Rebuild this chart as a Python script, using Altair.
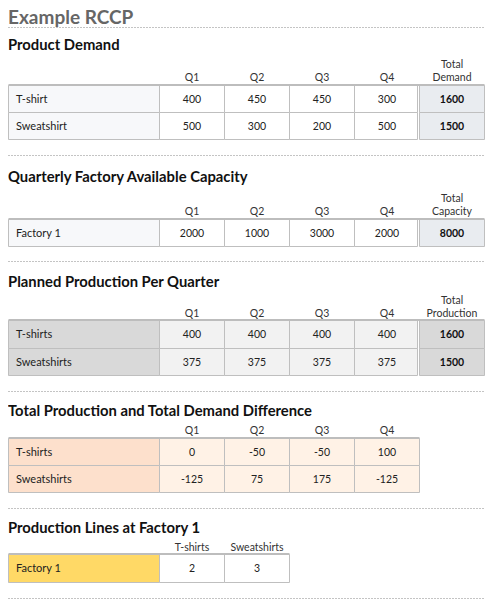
import altair as alt
import pandas as pd

# ---------------- data ----------------
title = "Example RCCP"
headings = [
    "Product Demand",
    "Quarterly Factory Available Capacity",
    "Planned Production Per Quarter",
    "Total Production and Total Demand Difference",
    "Production Lines at Factory 1",
]
quarters = ["Q1", "Q2", "Q3", "Q4"]

demand_items = ["T-shirt", "Sweatshirt"]
demand_q = [[400, 450, 450, 300], [500, 300, 200, 500]]
demand_total = [1600, 1500]
demand_total_header = ["Total", "Demand"]

capacity_items = ["Factory 1"]
capacity_q = [[2000, 1000, 3000, 2000]]
capacity_total = [8000]
capacity_total_header = ["Total", "Capacity"]

planned_items = ["T-shirts", "Sweatshirts"]
planned_q = [[400, 400, 400, 400], [375, 375, 375, 375]]
planned_total = [1600, 1500]
planned_total_header = ["Total", "Production"]

diff_items = ["T-shirts", "Sweatshirts"]
diff_q = [[0, -50, -50, 100], [-125, 75, 175, -125]]

lines_items = ["Factory 1"]
lines_products = ["T-shirts", "Sweatshirts"]
lines_q = [[2, 3]]

# ---------------- layout (pixel grid of the sheet) ----------------
LEFT, LABEL_R = 8.5, 159.5
COL_EDGES = [159.5, 224.5, 289.5, 354.5, 419.5]
Q4_R_WITH_TOTAL = 417.5
TOTAL_L, TOTAL_R = 419.5, 484.5
DASH_L, DASH_R = 8, 485
LABEL_X = 16
HEAD_X = 8

sections = [
    dict(items=demand_items, cols=quarters, vals=demand_q, tot=demand_total,
         tot_hdr=demand_total_header, head=50, hdr=78, hdr_tot=64.5,
         rows=[85.5, 112.5, 139.5], fills=("#f7f8fa", "#ffffff", "#e9ecf0")),
    dict(items=capacity_items, cols=quarters, vals=capacity_q, tot=capacity_total,
         tot_hdr=capacity_total_header, head=182, hdr=212, hdr_tot=198.5,
         rows=[219.5, 246.5], fills=("#f7f8fa", "#ffffff", "#e9ecf0")),
    dict(items=planned_items, cols=quarters, vals=planned_q, tot=planned_total,
         tot_hdr=planned_total_header, head=287, hdr=313.5, hdr_tot=300.5,
         rows=[320.5, 348.5, 375.5], fills=("#d9d9d9", "#f2f2f2", "#d9d9d9")),
    dict(items=diff_items, cols=quarters, vals=diff_q, tot=None,
         tot_hdr=None, head=416, hdr=431, hdr_tot=None,
         rows=[438.5, 465.5, 492.5], fills=("#fde0cc", "#fff2e6", None)),
    dict(items=lines_items, cols=lines_products, vals=lines_q, tot=None,
         tot_hdr=None, head=533, hdr=547.5, hdr_tot=None,
         rows=[554.5, 582.5], fills=("#ffd966", "#ffffff", None)),
]
dash_y = [27.5, 155.5, 261.5, 391.5, 508.5, 598.5]

cells, tops, heads, hdrs, labels, values, totals = [], [], [], [], [], [], []
for s, h in zip(sections, headings):
    heads.append(dict(x=HEAD_X, y=s["head"], t=h))
    ncol = len(s["cols"])
    has_tot = s["tot"] is not None
    right = COL_EDGES[ncol]
    tops.append(dict(x=LEFT, x2=TOTAL_R if has_tot else right, y=s["rows"][0] - 0.5))
    for j, c in enumerate(s["cols"]):
        hdrs.append(dict(x=(COL_EDGES[j] + COL_EDGES[j + 1]) / 2, y=s["hdr"], t=c))
    if has_tot:
        cx = (TOTAL_L + TOTAL_R) / 2
        hdrs.append(dict(x=cx, y=s["hdr_tot"], t=s["tot_hdr"][0]))
        hdrs.append(dict(x=cx, y=s["hdr"], t=s["tot_hdr"][1]))
    lab_f, val_f, tot_f = s["fills"]
    for i, item in enumerate(s["items"]):
        y0, y1 = s["rows"][i], s["rows"][i + 1]
        ym = (y0 + y1) / 2 + 0.5
        cells.append(dict(x=LEFT, x2=LABEL_R, y=y0, y2=y1, f=lab_f))
        labels.append(dict(x=LABEL_X, y=ym, t=item))
        for j in range(ncol):
            xa, xb = COL_EDGES[j], COL_EDGES[j + 1]
            if has_tot and j == ncol - 1:
                xb = Q4_R_WITH_TOTAL
            cells.append(dict(x=xa, x2=xb, y=y0, y2=y1, f=val_f))
            values.append(dict(x=(COL_EDGES[j] + COL_EDGES[j + 1]) / 2, y=ym,
                               t=str(s["vals"][i][j])))
        if has_tot:
            cells.append(dict(x=TOTAL_L, x2=TOTAL_R, y=y0, y2=y1, f=tot_f))
            totals.append(dict(x=(TOTAL_L + TOTAL_R) / 2, y=ym, t=str(s["tot"][i])))

xs = alt.Scale(domain=[8, 489], range=[0, 481], nice=False, zero=False)
ys = alt.Scale(domain=[8, 600], range=[0, 592], nice=False, zero=False)
X = lambda f="x": alt.X(f"{f}:Q", scale=xs, axis=None)
Y = lambda f="y": alt.Y(f"{f}:Q", scale=ys, axis=None)
FONT = "Lato"

rect_layer = alt.Chart(pd.DataFrame(cells)).mark_rect(
    stroke="#bfbfbf", strokeWidth=1
).encode(x=X(), x2="x2:Q", y=Y(), y2="y2:Q", fill=alt.Fill("f:N", scale=None))

top_layer = alt.Chart(pd.DataFrame(tops)).mark_rule(
    color="#bdbdbd", strokeWidth=2
).encode(x=X(), x2="x2:Q", y=Y())

dash_layer = alt.Chart(pd.DataFrame(dict(x=[DASH_L] * len(dash_y),
                                         x2=[DASH_R] * len(dash_y), y=dash_y))).mark_rule(
    color="#c4c4c4", strokeWidth=1, strokeDash=[2, 1]
).encode(x=X(), x2="x2:Q", y=Y())

title_layer = alt.Chart(pd.DataFrame([dict(x=HEAD_X, y=23.5, t=title)])).mark_text(
    font=FONT, fontSize=19, fontWeight="bold", color="#666666", align="left",
    baseline="alphabetic"
).encode(x=X(), y=Y(), text="t:N")

head_layer = alt.Chart(pd.DataFrame(heads)).mark_text(
    font=FONT, fontSize=14.8, fontWeight="bold", color="#111111", align="left",
    baseline="alphabetic"
).encode(x=X(), y=Y(), text="t:N")

hdr_layer = alt.Chart(pd.DataFrame(hdrs)).mark_text(
    font=FONT, fontSize=10.5, color="#333333", align="center", baseline="middle"
).encode(x=X(), y=Y(), text="t:N")

label_layer = alt.Chart(pd.DataFrame(labels)).mark_text(
    font=FONT, fontSize=11, color="#222222", align="left", baseline="middle"
).encode(x=X(), y=Y(), text="t:N")

value_layer = alt.Chart(pd.DataFrame(values)).mark_text(
    font=FONT, fontSize=10.5, color="#222222", align="center", baseline="middle"
).encode(x=X(), y=Y(), text="t:N")

total_layer = alt.Chart(pd.DataFrame(totals)).mark_text(
    font=FONT, fontSize=10.5, fontWeight="bold", color="#111111", align="center",
    baseline="middle"
).encode(x=X(), y=Y(), text="t:N")

chart = alt.layer(
    dash_layer, rect_layer, top_layer, title_layer, head_layer, hdr_layer,
    label_layer, value_layer, total_layer
).properties(
    width=481, height=592, padding=0, autosize=alt.AutoSizeParams(type="none"),
    background="white"
).configure_view(stroke=None)

chart.save("out.html", embed_options={"renderer": "svg", "actions": False})
